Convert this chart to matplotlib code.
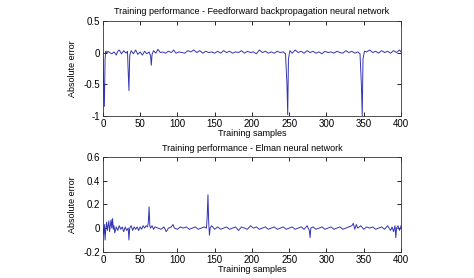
import matplotlib
matplotlib.use("Agg")
import matplotlib.pyplot as plt

# Feedforward backpropagation network: sample index -> absolute error
ff_x = [0, 1, 2, 3, 4, 5, 7, 9, 12, 15, 18, 20, 22, 25, 28, 31, 33, 34, 35, 36,
        38, 41, 44, 47, 50, 53, 56, 59, 62, 64, 65, 66, 68, 71, 74, 77, 80, 84,
        88, 92, 95, 98, 102, 106, 110, 114, 118, 122, 126, 130, 134, 138, 142,
        146, 150, 154, 158, 162, 166, 170, 174, 178, 182, 186, 190, 194, 198,
        202, 206, 210, 214, 218, 222, 226, 230, 234, 238, 242, 245, 247, 248,
        249, 251, 254, 258, 262, 266, 270, 274, 278, 282, 286, 290, 294, 298,
        302, 306, 310, 314, 318, 322, 326, 330, 334, 338, 342, 345, 347, 348,
        349, 351, 354, 358, 362, 366, 370, 374, 378, 382, 386, 390, 394, 398, 400]
ff_err = [0.0, -0.5, -0.85, -0.1, 0.02, -0.01, 0.02, 0.0, -0.02, 0.01, -0.04,
          0.02, 0.04, -0.02, 0.03, -0.01, 0.02, -0.3, -0.6, -0.05, 0.03, -0.02,
          0.04, -0.03, 0.01, -0.04, 0.02, -0.02, 0.01, -0.05, -0.2, -0.03, 0.03,
          -0.01, 0.05, 0.0, 0.01, -0.01, 0.02, 0.0, 0.04, -0.01, 0.01, 0.0,
          -0.01, 0.03, 0.01, 0.04, 0.0, 0.03, -0.01, 0.02, 0.0, 0.01, -0.01,
          0.02, -0.01, 0.03, 0.0, 0.02, -0.01, 0.01, 0.0, 0.03, -0.01, 0.02,
          0.0, 0.01, -0.02, 0.04, 0.0, 0.02, -0.01, 0.01, -0.01, 0.02, 0.0,
          0.01, -0.02, -0.5, -0.98, -0.1, 0.03, -0.01, 0.04, 0.0, 0.02, -0.01,
          0.03, 0.0, 0.02, -0.01, 0.01, -0.02, 0.02, 0.0, 0.01, -0.01, 0.02,
          0.0, -0.01, 0.03, 0.0, 0.02, -0.01, 0.01, -0.02, -0.55, -1.0, -0.1,
          0.02, 0.01, 0.04, 0.0, 0.02, -0.01, 0.03, 0.0, 0.02, -0.01, 0.03,
          0.0, 0.04, 0.01]

# Elman network
el_x = [0, 1, 2, 3, 4, 5, 6, 7, 8, 9, 10, 11, 12, 13, 14, 15, 16, 18, 20, 22,
        24, 26, 28, 30, 32, 34, 35, 36, 38, 40, 42, 44, 46, 48, 50, 52, 54, 56,
        58, 60, 61, 62, 63, 64, 66, 68, 70, 74, 78, 82, 85, 88, 92, 94, 96,
        100, 104, 108, 112, 116, 120, 124, 128, 132, 136, 139, 140, 141, 142,
        143, 144, 146, 150, 154, 158, 162, 166, 170, 174, 178, 182, 186, 190,
        194, 198, 202, 206, 210, 214, 218, 222, 226, 230, 234, 238, 242, 246,
        250, 254, 258, 262, 266, 270, 274, 277, 278, 279, 282, 286, 290, 294,
        298, 302, 306, 310, 314, 318, 322, 326, 330, 334, 336, 338, 340, 342,
        346, 350, 354, 358, 362, 366, 370, 374, 378, 382, 386, 388, 390, 392,
        393, 394, 396, 398, 400]
el_err = [0.0, -0.05, 0.03, -0.1, 0.0, 0.05, -0.02, 0.02, 0.06, -0.03, 0.02,
          0.07, 0.0, 0.08, -0.01, 0.02, -0.04, 0.01, -0.02, 0.02, -0.01, 0.01,
          -0.03, 0.01, -0.02, 0.0, -0.1, 0.0, 0.02, -0.02, 0.01, -0.01, 0.01,
          -0.02, 0.01, -0.01, 0.02, 0.0, 0.02, 0.01, 0.05, 0.18, 0.02, 0.0,
          0.02, -0.01, 0.01, 0.0, -0.01, 0.01, -0.03, 0.0, 0.01, 0.03, 0.0,
          -0.01, 0.01, 0.0, 0.01, -0.01, 0.0, 0.01, -0.01, 0.0, 0.01, 0.0,
          0.1, 0.28, 0.05, -0.06, 0.0, 0.02, -0.01, 0.01, -0.01, 0.0, 0.01,
          -0.01, 0.0, 0.01, -0.02, 0.01, 0.0, -0.01, 0.02, 0.0, 0.01, -0.01,
          0.0, 0.01, -0.01, 0.0, 0.01, -0.01, 0.0, 0.01, -0.01, 0.0, 0.01,
          -0.01, 0.0, 0.01, -0.01, 0.02, -0.02, -0.08, 0.0, 0.01, -0.01, 0.0,
          0.01, -0.01, 0.0, 0.01, -0.01, 0.0, 0.01, -0.01, 0.0, 0.01, 0.02,
          0.04, -0.01, 0.03, 0.0, 0.02, -0.01, 0.01, 0.0, 0.01, -0.01, 0.0,
          0.01, -0.01, 0.02, -0.02, 0.01, -0.03, 0.02, -0.08, 0.0, 0.02, -0.02,
          0.02]

plt.rcParams["font.family"] = ["Liberation Sans", "DejaVu Sans"]
plt.rcParams["font.size"] = 6.5

fig = plt.figure(figsize=(4.74, 2.78), dpi=100)
ax1 = fig.add_axes([0.217, 0.583, 0.629, 0.342])
ax2 = fig.add_axes([0.217, 0.094, 0.629, 0.342])

line_color = "#3434b4"

ax1.plot(ff_x, ff_err, color=line_color, lw=0.7)
ax1.set_xlim(0, 400)
ax1.set_ylim(-1, 0.5)
ax1.set_yticks([-1, -0.5, 0, 0.5])
ax1.set_yticklabels(["-1", "-0.5", "0", "0.5"])
ax1.set_title("Training performance - Feedforward backpropagation neural network",
              fontsize=6.5, pad=5)

ax2.plot(el_x, el_err, color=line_color, lw=0.7)
ax2.set_xlim(0, 400)
ax2.set_ylim(-0.2, 0.6)
ax2.set_yticks([-0.2, 0, 0.2, 0.4, 0.6])
ax2.set_yticklabels(["-0.2", "0", "0.2", "0.4", "0.6"])
ax2.set_title("Training performance - Elman neural network", fontsize=6.5, pad=4)

for ax in (ax1, ax2):
    ax.set_xticks(range(0, 401, 50))
    ax.set_xlabel("Training samples", labelpad=0)
    ax.set_ylabel("Absolute error", labelpad=5)
    ax.tick_params(direction="in", top=True, right=True, length=3,
                   width=0.6, pad=2, labelsize=7)
    for s in ax.spines.values():
        s.set_linewidth(0.6)
        s.set_color("#333333")

fig.savefig("out.png", dpi=100)
